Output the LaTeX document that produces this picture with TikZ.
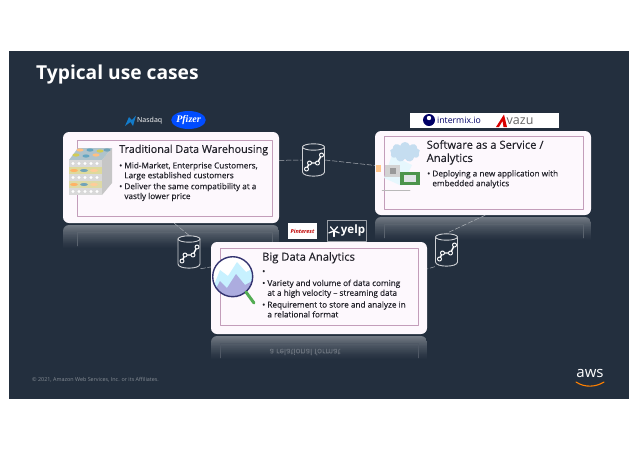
\documentclass[tikz,border=0pt]{standalone}
\usepackage{fontspec}
\setmainfont{Open Sans}
\newfontfamily\cardfont[FakeBold=0.25]{Open Sans}
\newfontfamily\logoserif{Liberation Serif}
\usetikzlibrary{shapes.geometric,shapes.symbols}
\definecolor{panelbg}{HTML}{232F3E}
\definecolor{cardbg}{HTML}{FDF8FD}
\definecolor{innerline}{HTML}{C39DBA}
\definecolor{inktext}{HTML}{23232B}
\tikzset{
	cardbox/.style={fill=cardbg,rounded corners=6pt,inner sep=0pt},
	innerbox/.style={draw=innerline,line width=.7pt},
	cardtitle/.style={anchor=north west,inner sep=0pt,text=inktext,font=\cardfont\fontsize{11.2}{13.2}\selectfont,align=left},
	cardtext/.style={anchor=north west,inner sep=0pt,text=inktext,font=\cardfont\fontsize{8.2}{9.8}\selectfont,align=left},
	dbnode/.style={minimum width=23pt,minimum height=33pt,inner sep=0pt},
	dbline/.style={draw=white!78!panelbg,line width=.9pt,fill=panelbg},
	flowline/.style={draw=white!62!panelbg,line width=.5pt,dash pattern=on 5pt off 2pt}
}
\newcommand{\ind}{\hspace*{5.2pt}}
% strip that fades out under a card: x, y, width, height
\newcommand{\glowstrip}[4]{
	\begin{scope}
		\clip[rounded corners=6pt] (#1,#2) rectangle ++(#3,#4+8);
		\foreach \i in {0,...,#4}{
			\pgfmathsetmacro{\pct}{int(36*(1-\i/#4)^1.3)}
			\fill[white!\pct!panelbg] (#1,#2+\i) rectangle ++(#3,1.2);
		}
	\end{scope}
}
\begin{document}
\begin{tikzpicture}[x=1pt,y=-1pt,line join=round,line cap=round]
	\useasboundingbox (0,0) rectangle (638,451);
	\fill[white] (0,0) rectangle (638,451);
	\fill[panelbg] (9,51) rectangle (629,399);
	\node[anchor=west,inner sep=0pt,text=white,font=\fontsize{19.2}{22}\selectfont\bfseries] (title) at (36,75) {Typical use cases};
	\node[anchor=west,inner sep=0pt,text=white!45!panelbg,font=\fontsize{5.4}{7}\selectfont] (legal) at (32,379.5) {© 2021, Amazon Web Services, Inc. or its Affiliates.};
	% reflections under the cards
	\glowstrip{63}{225}{216}{24}
	\glowstrip{375}{217}{216}{24}
	\glowstrip{211}{336}{216}{24}
	\draw[white!25!panelbg,line width=.4pt] (77,246)--(77,232)--(272,232)--(272,246);
	\draw[white!25!panelbg,line width=.4pt] (384,238)--(384,224)--(583,224)--(583,238);
	\draw[white!20!panelbg,line width=.4pt] (220,358)--(220,343)--(418,343)--(418,358);
	\node[yscale=-1,transform shape,inner sep=0pt,text=white!32!panelbg,font=\cardfont\fontsize{8.2}{10}\selectfont] (mirror) at (305,352) {a relational format};
	% cards
	\node[cardbox,minimum width=216pt,minimum height=91pt] (warehouse) at (171,177.5) {};
	\node[cardbox,minimum width=216pt,minimum height=84pt] (saas) at (483,173) {};
	\node[cardbox,minimum width=216pt,minimum height=92pt] (bigdata) at (319,288) {};
	\draw[innerbox] (77,140) rectangle (272,216);
	\draw[innerbox] (384,136) rectangle (583,209);
	\draw[innerbox] (220,248) rectangle (418,325);
	% connectors
	\node[dbnode] (dbtop) at (313.5,160) {};
	\node[dbnode] (dbleft) at (189,252) {};
	\node[dbnode] (dbright) at (446.5,250) {};
	\draw[flowline] (warehouse.9)--(dbtop.west);
	\draw[flowline] (dbtop.east)--(saas.176);
	\draw[flowline] (warehouse.-86)--(dbleft.north);
	\draw[flowline] (dbleft.south east)--(bigdata.169);
	\draw[flowline] (saas.-87)--(dbright.north);
	\draw[flowline] (dbright.south west)--(bigdata.10);
	\foreach \n in {dbtop,dbleft,dbright}{
		\draw[dbline] ([shift={(-11,-13)}]\n.center)--([shift={(-11,12)}]\n.center) .. controls ([shift={(-11,17.5)}]\n.center) and ([shift={(11,17.5)}]\n.center) .. ([shift={(11,12)}]\n.center)--([shift={(11,-13)}]\n.center);
		\draw[dbline] ([shift={(0,-13)}]\n.center) ellipse (11 and 3.2);
		\draw[white,line width=1.4pt] ([shift={(-7,9)}]\n.center)--([shift={(-4,3)}]\n.center)--([shift={(4,3)}]\n.center)--([shift={(8,-5)}]\n.center);
		\foreach \p in {(-7,9),(-4,3),(4,3),(8,-5)}
			\draw[white,fill=panelbg,line width=1pt] ([shift={\p}]\n.center) circle (2);
	}
	% data cube
	\fill[gray!45] (102,160)--(112,148)--(112,183)--(102,195)--cycle;
	\fill[cyan!25!gray!60] (78,148)--(112,148)--(102,160)--(69,160)--cycle;
	\foreach \x/\y/\c in {80/150/orange!50,90/150/cyan!50!gray,100/151/yellow!60!gray,107/150/cyan!40!gray,76/155/yellow!60!gray,86/156/cyan!50!gray,96/155/orange!50}
		\fill[\c] (\x,\y) ellipse (3.5 and 1.6);
	\foreach \y/\c in {160/gray!30,167/yellow!50!gray!60,174/gray!30,181/yellow!45!gray!55,188/gray!30}
		\fill[\c] (69,\y) rectangle (102,\y+7);
	\foreach \y in {163.5,177.5,191.5}
		\foreach \x in {73,79,85,91,97}
			\fill[white] (\x,\y) circle (1.6);
	\foreach \y in {170.5,184.5}
		\foreach \x/\c in {74/orange!60,84/cyan!40!gray,94/orange!40}
			\fill[\c] (\x,\y) ellipse (4 and 1.5);
	% cloud and boards
	\fill[cyan!10] (392,155)--(384,178)--(402,186)--(412,165)--cycle;
	\node[cloud,cloud puffs=9,aspect=1.6,fill={rgb,255:red,197;green,221;blue,240},inner sep=0pt,minimum width=30pt,minimum height=20pt] (cloudicon) at (405,152) {};
	\fill[gray!35] (385,165) rectangle (400,177);
	\fill[orange!45] (376,165) rectangle (381,172);
	\fill[black!40] (390,168) rectangle (396,174);
	\fill[green!40!black!70] (400,172) rectangle (420,185);
	\fill[cyan!15!gray!25] (404,175) rectangle (416,182);
	\draw[gray!55,line width=.5pt] (382,190)--(410,190);
	% lens
	\fill[white] (232.7,276.7) circle (20);
	\begin{scope}
		\clip (232.7,276.7) circle (20);
		\fill[blue!25!cyan!22] (212,290)--(220,270)--(228,276)--(237,262)--(246,272)--(254,268)--(254,298)--(212,298)--cycle;
		\fill[blue!45!gray!45] (212,296)--(220,281)--(227,288)--(236,274)--(245,285)--(254,280)--(254,298)--(212,298)--cycle;
	\end{scope}
	\draw[black!60!blue!60!gray,line width=1.4pt] (232.7,276.7) circle (20);
	\draw[green!35!gray,line width=3pt] (246,292)--(254,303);
	% headings and bullets
	\node[cardtitle,font=\cardfont\fontsize{10.8}{13}\selectfont] (warehousehead) at (119,144.5) {Traditional Data Warehousing};
	\node[cardtext] (warehousebody) at (119,162) {• Mid-Market, Enterprise Customers,\\\ind Large established customers\\[1.2pt]• Deliver the same compatibility at a\\\ind vastly lower price};
	\node[cardtitle] (saashead) at (426.5,140) {Software as a Service /\\Analytics};
	\node[cardtext] (saasbody) at (427,170) {• Deploying a new application with\\\ind embedded analytics};
	\node[cardtitle] (bigdatahead) at (262,252) {Big Data Analytics};
	\node[cardtext] (bigdatabody) at (262,270) {•\\[2pt]• Variety and volume of data coming\\\ind at a high velocity – streaming data\\[2pt]• Requirement to store and analyze in\\\ind a relational format};
	% customers
	\fill[cyan!60!blue] (125,126)--(129,117)--(132,120)--(136,115.5)--(133,126)--(130.5,122)--cycle;
	\node[anchor=west,inner sep=0pt,text=white,font=\fontsize{7}{8}\selectfont] (nasdaq) at (137,121) {Nasdaq};
	\node[ellipse,fill=blue!70!cyan,minimum width=29pt,minimum height=18pt,inner sep=0pt,text=white,font=\logoserif\fontsize{10}{11}\selectfont\bfseries\itshape] (pfizer) at (188.5,120) {Pfizer};
	\node[fill=white,minimum width=149pt,minimum height=15pt,inner sep=0pt] (logobar) at (484.5,120.5) {};
	\fill[blue!40!black] (429,120) circle (6);
	\fill[white] (429,118) circle (2.2);
	\node[anchor=west,inner sep=0pt,text=blue!40!black,font=\fontsize{8.7}{10}\selectfont] (intermix) at (437,120.5) {intermix.io};
	\fill[red!85!black] (496,127)--(504,114.5)--(507,127)--(503.5,127)--(502.5,121)--(499,127)--cycle;
	\node[anchor=west,inner sep=0pt,text=black!60,font=\fontsize{12.5}{13}\selectfont] (avazu) at (506.5,121) {vazu};
	\node[fill=white,minimum width=29pt,minimum height=16pt,inner sep=0pt,text=red!75!black,font=\fontsize{5.5}{6}\selectfont\bfseries\itshape] (pinterest) at (302.5,231) {Pinterest};
	\node[draw=white!55!panelbg,line width=.5pt,minimum width=39pt,minimum height=21pt,inner sep=0pt,text=white,font=\fontsize{11.5}{12}\selectfont\bfseries] (yelp) at (346.5,230.5) {\hspace*{13pt}yelp};
	\foreach \a in {20,90,160,230,310}
		\draw[white,line width=1.3pt] (334,231)--++(\a:5.5);
	% aws mark
	\node[inner sep=0pt,text=white,font=\fontsize{15}{16}\selectfont] (aws) at (590,373) {aws};
	\draw[orange,line width=1.1pt] (576,382) .. controls (585,388) and (596,387) .. (604,382);
\end{tikzpicture}
\end{document}
